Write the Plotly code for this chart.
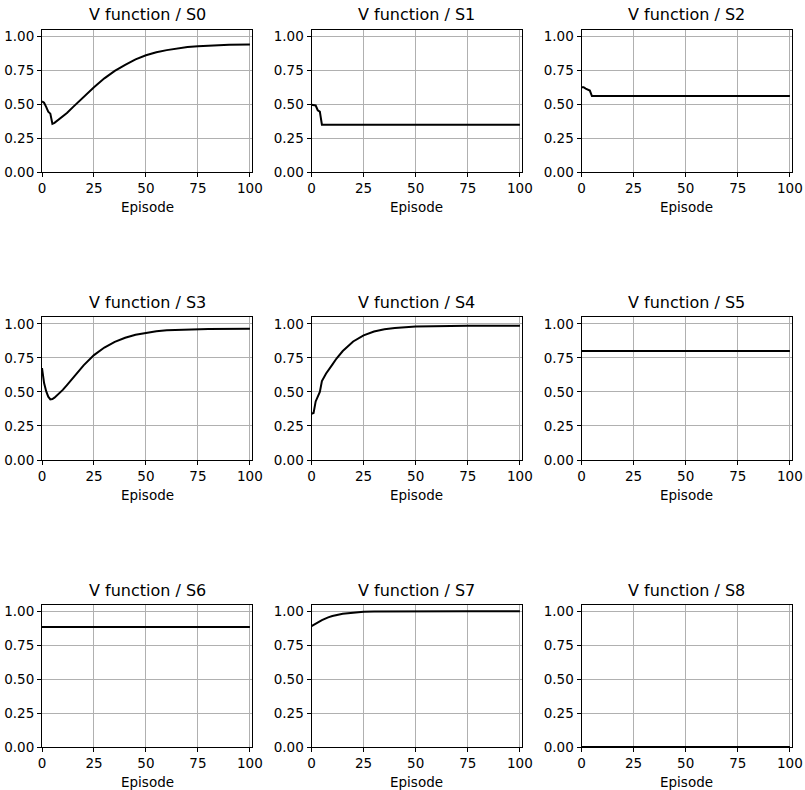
import plotly.graph_objects as go

# values (episode -> V)
states = ["S0", "S1", "S2", "S3", "S4", "S5", "S6", "S7", "S8"]

ep_s0 = [0, 1, 2, 3, 4, 5, 6, 8, 10, 12, 15, 20, 25, 30, 35, 40, 45, 50, 55, 60, 65, 70, 75, 80, 90, 100]
v_s0 = [0.52, 0.51, 0.48, 0.445, 0.43, 0.355, 0.362, 0.385, 0.41, 0.435, 0.48, 0.555, 0.625, 0.69,
        0.745, 0.79, 0.83, 0.86, 0.882, 0.898, 0.912, 0.921, 0.927, 0.932, 0.937, 0.94]

ep_s1 = [0, 1, 2, 3, 4, 5, 100]
v_s1 = [0.495, 0.495, 0.49, 0.455, 0.445, 0.348, 0.348]

ep_s2 = [0, 1, 2, 3, 4, 5, 100]
v_s2 = [0.625, 0.625, 0.615, 0.61, 0.60, 0.56, 0.56]

ep_s3 = [0, 1, 2, 3, 4, 5, 6, 8, 10, 12, 15, 20, 25, 30, 35, 40, 45, 50, 55, 60, 70, 80, 100]
v_s3 = [0.675, 0.565, 0.505, 0.465, 0.445, 0.448, 0.458, 0.485, 0.515, 0.55, 0.605, 0.695, 0.77,
        0.826, 0.868, 0.898, 0.92, 0.935, 0.945, 0.952, 0.958, 0.961, 0.963]

ep_s4 = [0, 1, 2, 3, 4, 5, 7, 10, 12, 15, 20, 25, 30, 35, 40, 50, 60, 75, 100]
v_s4 = [0.34, 0.345, 0.43, 0.46, 0.50, 0.58, 0.635, 0.70, 0.745, 0.80, 0.87, 0.915, 0.943,
        0.96, 0.97, 0.98, 0.983, 0.985, 0.985]

ep_s5 = [0, 100]
v_s5 = [0.80, 0.80]

ep_s6 = [0, 100]
v_s6 = [0.885, 0.885]

ep_s7 = [0, 2, 5, 8, 10, 15, 20, 25, 30, 40, 50, 75, 100]
v_s7 = [0.89, 0.91, 0.935, 0.955, 0.965, 0.982, 0.992, 0.997, 0.999, 1.0, 1.0, 1.0, 1.0]

ep_s8 = [0, 100]
v_s8 = [0.0, 0.0]

episodes = [ep_s0, ep_s1, ep_s2, ep_s3, ep_s4, ep_s5, ep_s6, ep_s7, ep_s8]
values = [v_s0, v_s1, v_s2, v_s3, v_s4, v_s5, v_s6, v_s7, v_s8]

x_ticks = [0, 25, 50, 75, 100]
y_ticks = [0, 0.25, 0.5, 0.75, 1.0]

W, H = 805, 790
# axes boxes in pixels (left, right) and (top, bottom)
cols_px = [(42, 252), (311.5, 522), (581.5, 792)]
rows_px = [(29.5, 172), (317, 460), (604.5, 747)]

font = "DejaVu Sans"
fig = go.Figure()
layout = dict(width=W, height=H, margin=dict(l=0, r=0, t=0, b=0),
              paper_bgcolor="white", plot_bgcolor="white", showlegend=False,
              font=dict(family=font, size=13.5, color="black"))
annotations = []

for i, name in enumerate(states):
    r, c = divmod(i, 3)
    n = "" if i == 0 else str(i + 1)
    fig.add_trace(go.Scatter(x=episodes[i], y=values[i], mode="lines",
                             line=dict(color="black", width=2),
                             xaxis="x" + n, yaxis="y" + n, name=name))
    common = dict(showgrid=True, gridcolor="#b0b0b0", gridwidth=1,
                  showline=True, linecolor="black", linewidth=1, mirror=True,
                  ticks="outside", ticklen=4, tickcolor="black", tickwidth=1,
                  zeroline=False, automargin=False,
                  tickfont=dict(family=font, size=13.5, color="black"))
    x0, x1 = cols_px[c]
    y0, y1 = rows_px[r]
    layout["xaxis" + n] = dict(domain=[x0 / W, x1 / W], anchor="y" + n,
                               range=[0, 101], tickvals=x_ticks, **common)
    layout["yaxis" + n] = dict(domain=[1 - y1 / H, 1 - y0 / H], anchor="x" + n,
                               range=[0, 1.05], tickvals=y_ticks, tickformat=".2f", **common)
    annotations.append(dict(text="V function / " + name, x=0.5, y=1,
                            xref="x" + n + " domain", yref="y" + n + " domain",
                            xanchor="center", yanchor="middle", yshift=14.5,
                            showarrow=False, font=dict(family=font, size=16, color="black")))
    annotations.append(dict(text="Episode", x=0.5, y=0,
                            xref="x" + n + " domain", yref="y" + n + " domain",
                            xanchor="center", yanchor="middle", yshift=-35,
                            showarrow=False, font=dict(family=font, size=13.5, color="black")))

layout["annotations"] = annotations
fig.update_layout(**layout)
# the page's default 8px body margin would push the figure off the window
fig.write_html("out.html", config={"displayModeBar": False},
               post_script="document.body.style.margin = '0px';")
